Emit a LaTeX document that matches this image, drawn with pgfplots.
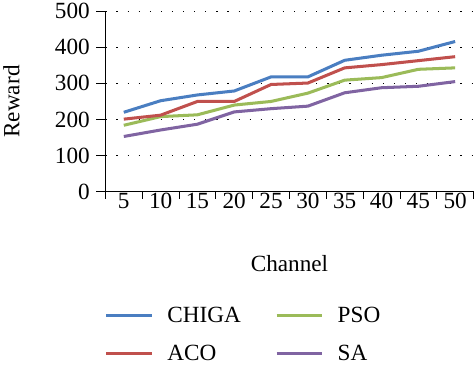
\documentclass[border=0pt]{standalone}
\usepackage{fontspec}
\setmainfont{Liberation Serif}
\usepackage{pgfplots}
\pgfplotsset{compat=1.18}
\definecolor{cBlue}{RGB}{74,126,193}
\definecolor{cRed}{RGB}{192,80,77}
\definecolor{cGreen}{RGB}{155,187,89}
\definecolor{cPurple}{RGB}{128,100,162}
\begin{document}
\begin{tikzpicture}[font=\fontsize{23bp}{27bp}\selectfont]
\begin{axis}[
  scale only axis, width=365bp, height=179bp,
  xmin=0.5, xmax=10.5, ymin=0, ymax=500,
  axis x line=bottom, axis y line=left,
  axis line style={-, line width=0.8bp},
  xtick={1,...,10}, xticklabels={5,10,15,20,25,30,35,40,45,50},
  major x tick style={draw=none},
  minor xtick={0.5,1.5,...,10.5},
  minor x tick style={line width=0.8bp, black},
  minor tick length=7bp,
  ytick={0,100,...,500},
  major y tick style={line width=0.8bp, black},
  major tick length=9bp,
  tick align=outside,
  ymajorgrids, grid style={black, line width=0.9bp, dash pattern=on 1.2bp off 9.8bp},
  xticklabel style={yshift=11bp},
  yticklabel style={xshift=-3bp},
  /pgf/number format/assume math mode=true,
  xlabel={Channel}, ylabel={Reward},
  every axis x label/.style={at={(0.5,-0.40)}, anchor=center},
  every axis y label/.style={at={(-0.255,0.5)}, rotate=90, anchor=center},
  legend columns=2,
  legend cell align=left,
  legend style={draw=none, at={(-0.01,-0.615)}, anchor=north west, fill=none,
    /tikz/every even column/.append style={column sep=32bp},
    row sep=17bp, font=\fontsize{23bp}{27bp}\selectfont},
  legend image code/.code={\draw[#1, line width=3bp] (0bp,0bp) -- (45bp,0bp); \path (57bp,0bp);},
  every axis plot/.append style={line width=3bp},
]
\addplot[cBlue] coordinates {(1,220)(2,252)(3,268)(4,279)(5,318)(6,318)(7,364)(8,378)(9,389)(10,416)};
\addlegendentry{CHIGA}
\addplot[cGreen] coordinates {(1,184)(2,208)(3,213)(4,240)(5,250)(6,273)(7,309)(8,316)(9,339)(10,343)};
\addlegendentry{PSO}
\addplot[cRed] coordinates {(1,201)(2,212)(3,250)(4,250)(5,297)(6,301)(7,343)(8,352)(9,363)(10,374)};
\addlegendentry{ACO}
\addplot[cPurple] coordinates {(1,153)(2,171)(3,187)(4,221)(5,230)(6,237)(7,274)(8,288)(9,292)(10,305)};
\addlegendentry{SA}
\end{axis}
\end{tikzpicture}
\end{document}
